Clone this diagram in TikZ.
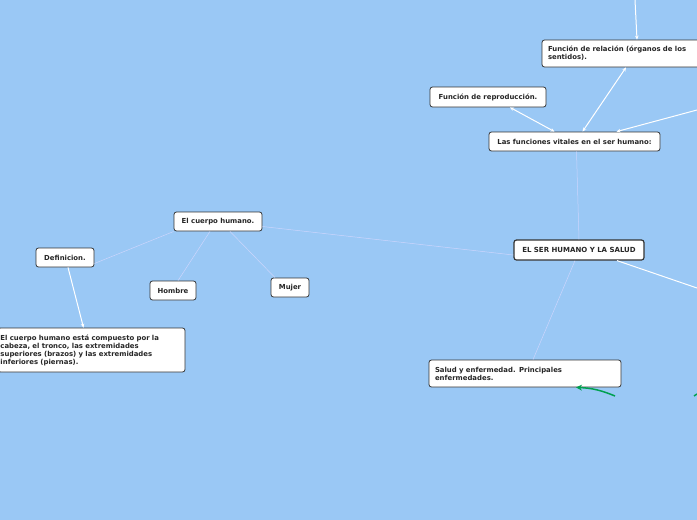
\documentclass[tikz,border=0pt]{standalone}
\usepackage{fontspec}
\setmainfont{DejaVu Sans}
\usetikzlibrary{arrows.meta}
\begin{document}
\begin{tikzpicture}[x=1pt,y=-1pt,
  box/.style={draw=black!80,fill=white,rounded corners=2.5pt,line width=0.8pt,font=\bfseries\fontsize{6.9}{8}\selectfont,text=black!85,inner sep=0,align=left},
  thin/.style={draw=white!85!blue,line width=0.5pt,opacity=0.8},
  thick/.style={draw=white,line width=1pt},
  arr/.style={thick,-{Stealth[length=4pt,width=3.5pt]}},
  darr/.style={thick,{Stealth[length=4pt,width=3.5pt]}-{Stealth[length=4pt,width=3.5pt]}}]
\fill[color={rgb,255:red,154;green,200;blue,245}] (0,0) rectangle (697,520);
\useasboundingbox (0,0) rectangle (697,520);
\node[box,line width=1.2pt,minimum width=130pt,minimum height=20pt,align=center,font=\bfseries\fontsize{7}{8}\selectfont] (main) at (579,250) {EL SER HUMANO Y LA SALUD};
\node[box,minimum width=171pt,minimum height=19pt,align=center] (fv) at (574.5,141.5) {Las funciones vitales en el ser humano:};
\node[box,minimum width=116pt,minimum height=20pt,align=center] (rep) at (488,97) {Función de reproducción.};
\node[box,minimum width=160pt,minimum height=27pt,text width=148pt] (rel) at (622,53.5) {Función de relación (órganos de los\\sentidos).};
\node[box,minimum width=192pt,minimum height=27pt,text width=180pt] (sal) at (525,373.5) {Salud y enfermedad. Principales\\enfermedades.};
\node[box,minimum width=88pt,minimum height=19pt,align=center] (ch) at (218,221.5) {El cuerpo humano.};
\node[box,minimum width=58pt,minimum height=19pt,align=center] (def) at (65,257.5) {Definicion.};
\node[box,minimum width=46pt,minimum height=19pt,align=center] (hom) at (173,290.5) {Hombre};
\node[box,minimum width=38pt,minimum height=19pt,align=center] (muj) at (290,287.5) {Mujer};
\node[box,minimum width=187pt,minimum height=44pt,text width=182pt] (big) at (91.5,350) {El cuerpo humano está compuesto por la\\cabeza, el tronco, las extremidades\\superiores (brazos) y las extremidades\\inferiores (piernas).};
\coordinate (r1) at (697,288); \coordinate (r2) at (697,110); \coordinate (t1) at (635,0);
\draw[thin] (fv.south) ++(2,0) -- (main.north);
\draw[thin] (ch.east) ++(0,5) -- ([yshift=-5pt]main.west);
\draw[thin] ([xshift=-4pt]main.south) -- ([xshift=8pt]sal.north);
\draw[thin] ([yshift=-10pt]ch.west) -- ([yshift=-6pt]def.east);
\draw[thin] ([xshift=-8pt]ch.south) -- ([xshift=5pt]hom.north);
\draw[thin] ([xshift=12pt]ch.south) -- ([xshift=-15pt]muj.north);
\draw[thick] ([xshift=38pt]main.south) -- (r1);
\draw[arr] ([xshift=3pt]def.south) -- ([xshift=-8pt]big.north);
\draw[darr] ([xshift=-20pt]fv.north) -- ([xshift=22pt]rep.south);
\draw[darr] ([xshift=8pt]fv.north) -- ([xshift=4pt]rel.south);
\draw[arr] (r2) -- ([xshift=42pt]fv.north);
\draw[arr] (t1) -- ([xshift=15pt]rel.north);
\draw[draw={rgb,255:red,0;green,160;blue,80},line width=1.5pt,-{Stealth[length=6pt,width=6pt]}] (615,396) to[bend right=10] ([xshift=51pt]sal.south);
\draw[draw={rgb,255:red,0;green,160;blue,80},line width=1.5pt] (694,396) -- (697,394);
\end{tikzpicture}
\end{document}
